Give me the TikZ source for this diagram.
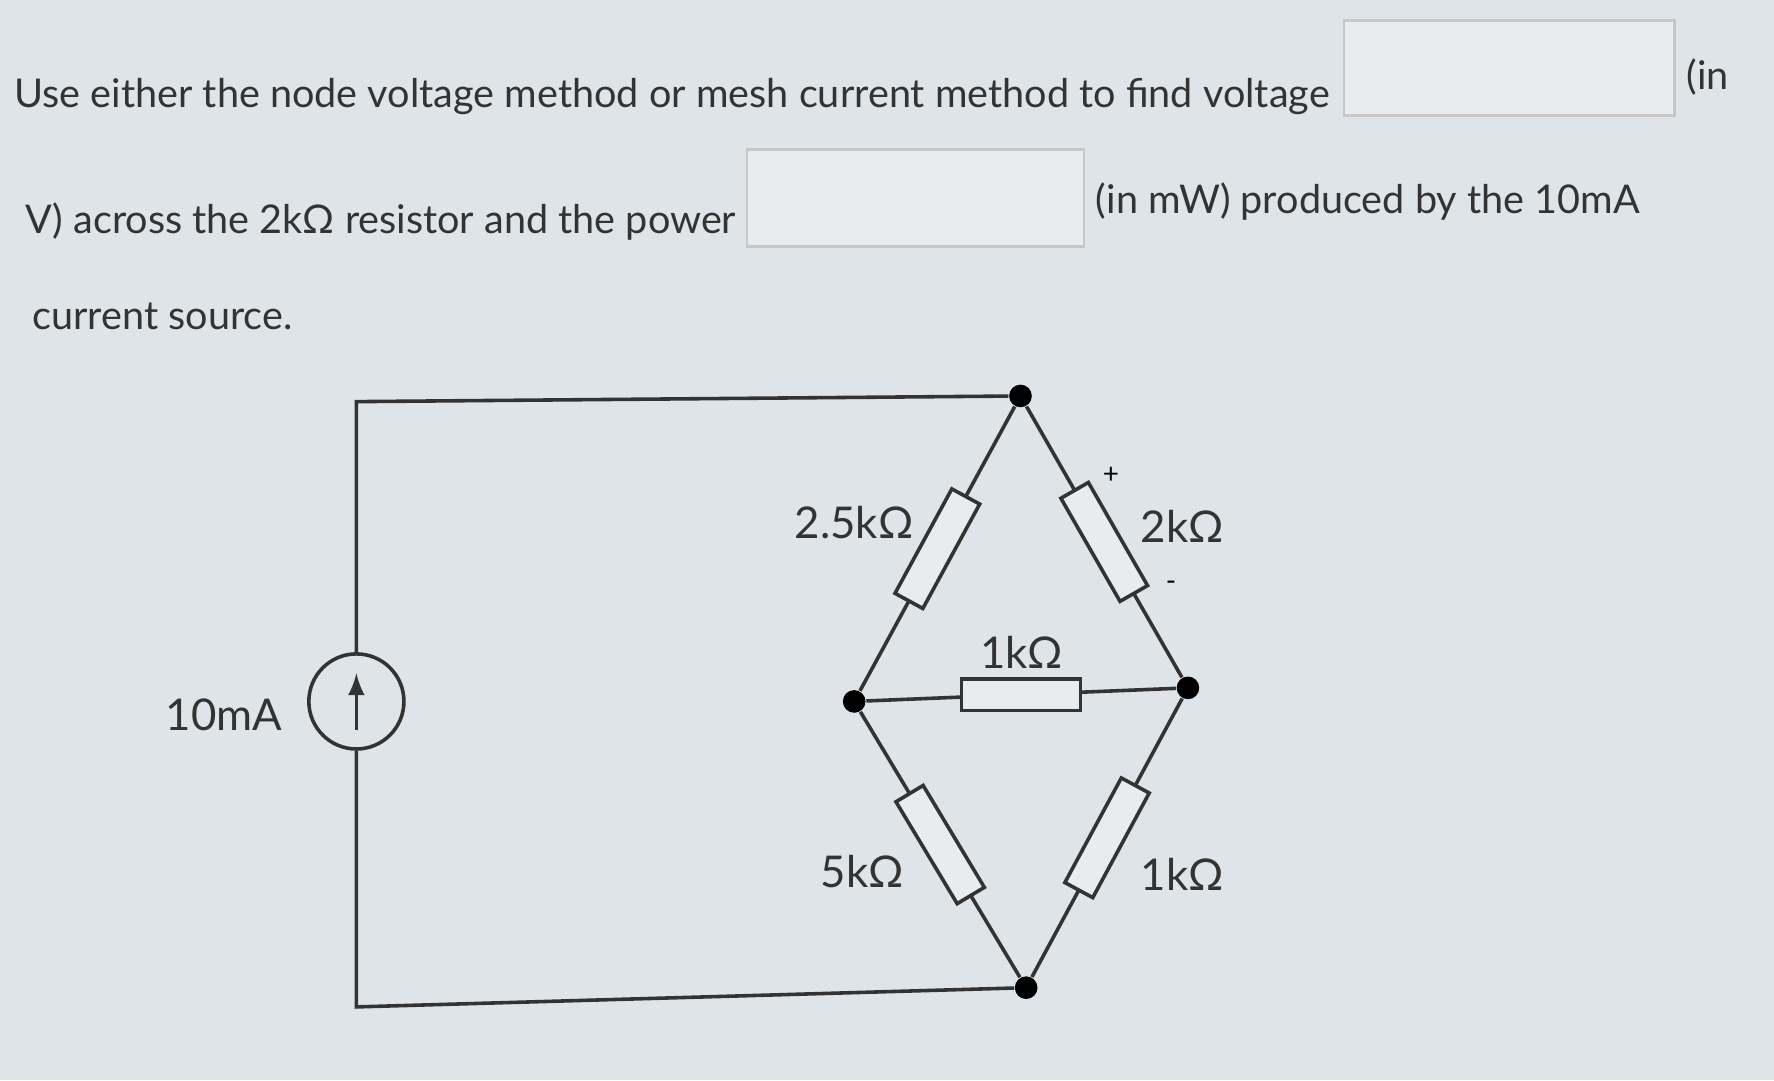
\documentclass[tikz,border=0pt]{standalone}
\usepackage{fontspec}
\setmainfont{Lato}
\definecolor{bg}{HTML}{DEE4E7}
\definecolor{box}{HTML}{E8ECEE}
\begin{document}
\begin{tikzpicture}[x=0.01cm,y=-0.01cm,
  wire/.style={draw=black!80,line width=0.9pt},
  res/.style={draw=black!80,fill=box,line width=0.9pt,minimum width=1.05cm,minimum height=0.28cm,inner sep=0pt},
  dot/.style={circle,fill=black,inner sep=0pt,minimum size=0.2cm},
  ans/.style={draw=black!22,fill=box,line width=0.6pt},
  txt/.style={font=\fontsize{9.95pt}{12pt}\selectfont,text=black!80,inner sep=0pt},
  lab/.style={font=\fontsize{11pt}{12pt}\selectfont,text=black!80,inner sep=0pt}]
\fill[bg] (0,0) rectangle (1568,955);
\useasboundingbox (0,0) rectangle (1568,955);
% question text
\node[txt,anchor=west] (t1) at (12,85) {Use either the node voltage method or mesh current method to find voltage};
\draw[ans] (1188,18) rectangle (1480,102);
\node[txt,anchor=west] (t2) at (1490,68) {(in};
\node[txt,anchor=west] (t3) at (22,196) {V) across the 2kΩ resistor and the power};
\draw[ans] (660,132) rectangle (958,218);
\node[txt,anchor=west] (t4) at (968,178) {(in mW) produced by the 10mA};
\node[txt,anchor=west] (t5) at (28,280) {current source.};
% nodes
\node[dot] (T) at (902,350) {};
\node[dot] (L) at (755,620) {};
\node[dot] (R) at (1050,608) {};
\node[dot] (B) at (907,873) {};
\coordinate (BL) at (315,890);
\node[circle,draw=black!80,line width=0.9pt,minimum size=0.84cm,inner sep=0pt] (S) at (315,620) {};
\draw[wire,-latex] ([yshift=-0.25cm]S.center) -- ([yshift=0.25cm]S.center);
\node[lab] (l10) at (198,632) {10mA};
% outer loop
\draw[wire] (S.north) -- (315,355) -- (T);
\draw[wire] (S.south) -- (BL) -- (B);
% resistors
\draw[wire] (T) -- (L) node[res,sloped,pos=0.5] (r1) {};
\draw[wire] (T) -- (R) node[res,sloped,pos=0.5] (r2) {};
\draw[wire] (L) -- (B) node[res,sloped,pos=0.5] (r3) {};
\draw[wire] (R) -- (B) node[res,sloped,pos=0.5] (r4) {};
\draw[wire] (L) -- (R) node[res,pos=0.5] (r5) {};
\node[lab] (l1) at (755,462) {2.5kΩ};
\node[lab] (l2) at (1045,465) {2kΩ};
\node[lab] (l3) at (903,577) {1kΩ};
\node[lab] (l4) at (762,770) {5kΩ};
\node[lab] (l5) at (1045,773) {1kΩ};
\node[font=\fontsize{7pt}{8pt}\selectfont,inner sep=0pt] (p) at (982,420) {+};
\node[font=\fontsize{7pt}{8pt}\selectfont,inner sep=0pt] (m) at (1035,518) {-};
\end{tikzpicture}
\end{document}
